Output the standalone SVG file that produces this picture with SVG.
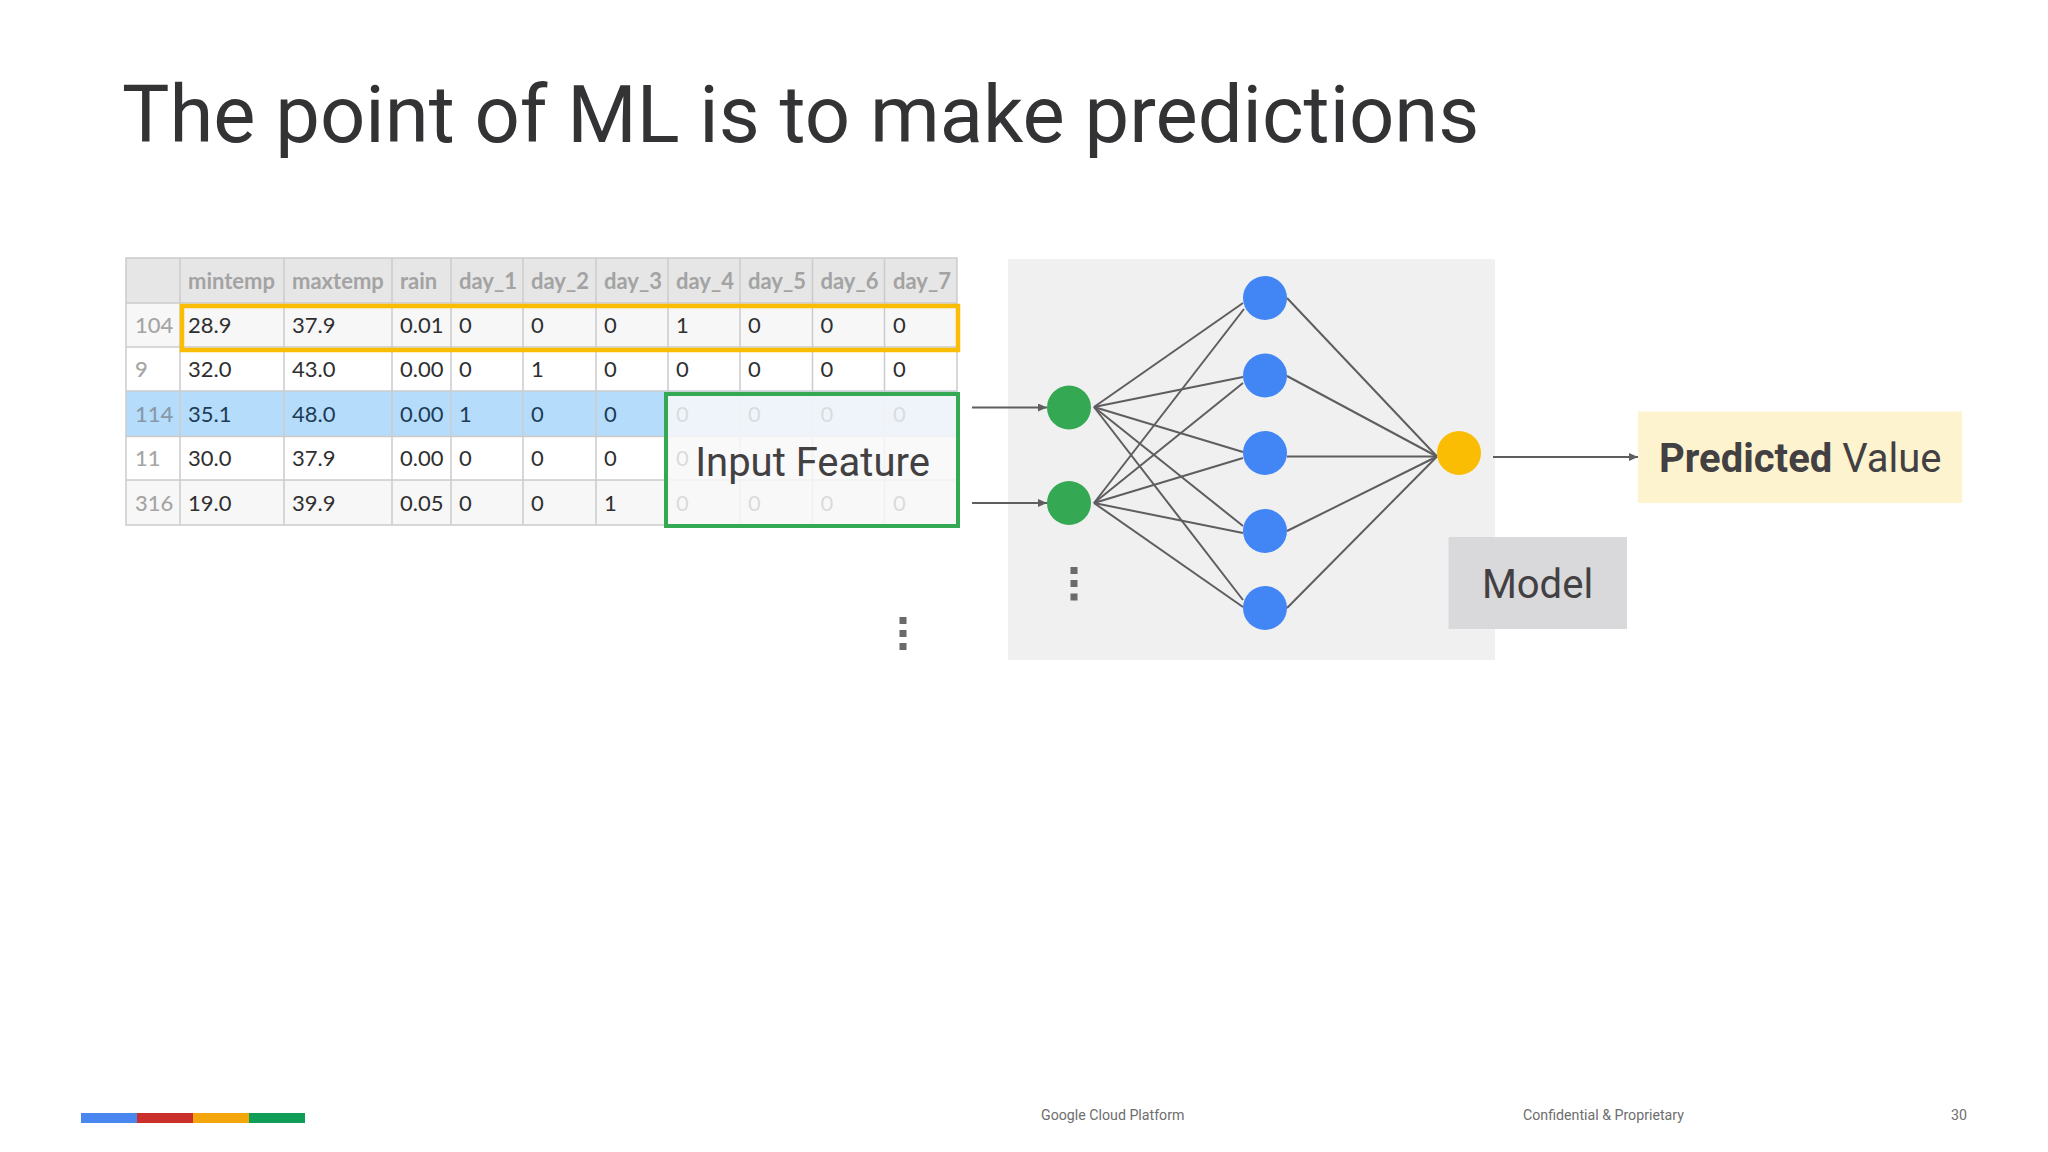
<svg xmlns="http://www.w3.org/2000/svg" width="2048" height="1152" viewBox="0 0 2048 1152">
<style>
text{font-family:Roboto,"Liberation Sans",sans-serif}
.t{font-family:Lato,"Liberation Sans",sans-serif;font-size:22px;fill:#2f2f2f}
.h{font-family:Lato,"Liberation Sans",sans-serif;font-size:22px;font-weight:700;fill:#a3a3a3}
.r{font-family:Lato,"Liberation Sans",sans-serif;font-size:22px;font-weight:500;fill:#a5a5a5}
.b{fill:#1d3c56}
.grid{stroke:#cbcbcb;stroke-width:1.5;fill:none}
.c line{stroke:#5f5d5f;stroke-width:2}
.a{marker-end:url(#ah)}
.lbl{font-size:40px;fill:#424042}
.blue{fill:#4285f4}.green{fill:#34a853}
.ft{font-size:14.2px;fill:#6e6e6e}
.dot{fill:#6b696b}
</style>
<defs><marker id="ah" markerUnits="userSpaceOnUse" markerWidth="10" markerHeight="8" refX="9" refY="4" orient="auto"><path d="M0 0L9 4L0 8Z" fill="#5f5d5f"/></marker></defs>
<rect width="2048" height="1152" fill="#fff"/>
<text id="title" x="122" y="142" font-size="79.600" fill="#333335">The point of ML is to make predictions</text>
<g id="table">
<rect x="126" y="258" width="831" height="45" fill="#e6e6e6"/>
<rect x="126" y="303" width="831" height="44" fill="#f7f7f7"/>
<rect x="126" y="391" width="831" height="45.500" fill="#b6dcfb"/>
<rect x="126" y="480" width="831" height="45" fill="#f7f7f7"/>
<path class="grid" d="M126 258H957V525H126ZM126 303H957M126 347H957M126 391H957M126 436.500H957M126 480H957M180 258V525M284 258V525M392 258V525M451 258V525M523 258V525M596 258V525M668 258V525M740 258V525M812.500 258V525M884.500 258V525"/>
<g class="h"><text class="h" x="188" y="289">mintemp</text><text class="h" x="292" y="289">maxtemp</text><text class="h" x="400" y="289">rain</text><text class="h" x="459" y="289">day_1</text><text class="h" x="531" y="289">day_2</text><text class="h" x="604" y="289">day_3</text><text class="h" x="676" y="289">day_4</text><text class="h" x="748" y="289">day_5</text><text class="h" x="820.500" y="289">day_6</text><text class="h" x="893" y="289">day_7</text></g>
<text class="r" x="135" y="333">104</text><text class="t" x="188" y="333">28.9</text><text class="t" x="292" y="333">37.9</text><text class="t" x="400" y="333">0.01</text><text class="t" x="459" y="333">0</text><text class="t" x="531" y="333">0</text><text class="t" x="604" y="333">0</text><text class="t" x="676" y="333">1</text><text class="t" x="748" y="333">0</text><text class="t" x="820.500" y="333">0</text><text class="t" x="893" y="333">0</text>
<text class="r" x="135" y="377">9</text><text class="t" x="188" y="377">32.0</text><text class="t" x="292" y="377">43.0</text><text class="t" x="400" y="377">0.00</text><text class="t" x="459" y="377">0</text><text class="t" x="531" y="377">1</text><text class="t" x="604" y="377">0</text><text class="t" x="676" y="377">0</text><text class="t" x="748" y="377">0</text><text class="t" x="820.500" y="377">0</text><text class="t" x="893" y="377">0</text>
<text class="r" x="135" y="421.500" style="fill:#8799a8">114</text><text class="t b" x="188" y="421.500">35.1</text><text class="t b" x="292" y="421.500">48.0</text><text class="t b" x="400" y="421.500">0.00</text><text class="t b" x="459" y="421.500">1</text><text class="t b" x="531" y="421.500">0</text><text class="t b" x="604" y="421.500">0</text><text class="t b" x="676" y="421.500">0</text><text class="t b" x="748" y="421.500">0</text><text class="t b" x="820.500" y="421.500">0</text><text class="t b" x="893" y="421.500">0</text>
<text class="r" x="135" y="466">11</text><text class="t" x="188" y="466">30.0</text><text class="t" x="292" y="466">37.9</text><text class="t" x="400" y="466">0.00</text><text class="t" x="459" y="466">0</text><text class="t" x="531" y="466">0</text><text class="t" x="604" y="466">0</text><text class="t" x="676" y="466">0</text>
<text class="r" x="135" y="510.500">316</text><text class="t" x="188" y="510.500">19.0</text><text class="t" x="292" y="510.500">39.9</text><text class="t" x="400" y="510.500">0.05</text><text class="t" x="459" y="510.500">0</text><text class="t" x="531" y="510.500">0</text><text class="t" x="604" y="510.500">1</text><text class="t" x="676" y="510.500">0</text><text class="t" x="748" y="510.500">0</text><text class="t" x="820.500" y="510.500">0</text><text class="t" x="893" y="510.500">0</text>
</g>
<rect id="row-highlight" x="182" y="306" width="776" height="44" fill="none" stroke="#fbbc04" stroke-width="4.500"/>
<g id="input-feature">
<rect x="666" y="394" width="292" height="132" fill="#f8f8f8" fill-opacity=".85" stroke="#34a853" stroke-width="4"/>
<text class="lbl" x="812.500" y="475.500" text-anchor="middle">Input Feature</text>
</g>
<rect id="model-panel" x="1008" y="259" width="487" height="401" fill="#f0f0f1"/>
<g id="connectors" class="c">
<line class="a" x1="972" y1="407.500" x2="1047" y2="407.500"/><line class="a" x1="972" y1="503" x2="1047" y2="503"/>
<line x1="1094" y1="407" x2="1243" y2="303"/><line x1="1094" y1="407" x2="1243" y2="377"/><line x1="1094" y1="407" x2="1243" y2="452"/><line x1="1094" y1="407" x2="1243" y2="526"/><line x1="1094" y1="407" x2="1243" y2="600"/>
<line x1="1094" y1="503" x2="1244" y2="309"/><line x1="1094" y1="503" x2="1243" y2="383"/><line x1="1094" y1="503" x2="1243" y2="458"/><line x1="1094" y1="503" x2="1243" y2="533"/><line x1="1094" y1="503" x2="1243" y2="607"/>
<line x1="1287" y1="298" x2="1437" y2="456.500"/><line x1="1287" y1="376" x2="1437" y2="456.500"/><line x1="1287" y1="456.500" x2="1437" y2="456.500"/><line x1="1287" y1="531" x2="1437" y2="456.500"/><line x1="1287" y1="608" x2="1437" y2="456.500"/>
<line class="a" x1="1493" y1="457" x2="1638" y2="457"/>
</g>
<g id="input-1"><circle class="green" cx="1069" cy="407.500" r="22"/></g>
<g id="input-2"><circle class="green" cx="1069" cy="503" r="22"/></g>
<g id="hidden-1"><circle class="blue" cx="1265" cy="298" r="22"/></g>
<g id="hidden-2"><circle class="blue" cx="1265" cy="375.500" r="22"/></g>
<g id="hidden-3"><circle class="blue" cx="1265" cy="453" r="22"/></g>
<g id="hidden-4"><circle class="blue" cx="1265" cy="531" r="22"/></g>
<g id="hidden-5"><circle class="blue" cx="1265" cy="608" r="22"/></g>
<g id="output"><circle cx="1459" cy="453" r="22" fill="#fbbc04"/></g>
<g id="dots-1"><rect class="dot" x="1070.500" y="567" width="7" height="7"/><rect class="dot" x="1070.500" y="580" width="7" height="7"/><rect class="dot" x="1070.500" y="593.500" width="7" height="7"/></g>
<g id="dots-2"><rect class="dot" x="899.500" y="617" width="7" height="7"/><rect class="dot" x="899.500" y="630" width="7" height="7"/><rect class="dot" x="899.500" y="643" width="7" height="7"/></g>
<g id="model-label"><rect x="1448.500" y="537" width="178.500" height="92" fill="#d9d8db"/><text class="lbl" x="1537.500" y="597.500" text-anchor="middle">Model</text></g>
<g id="predicted-value"><rect x="1638" y="411.500" width="324" height="91.500" fill="#fef3cf"/><text class="lbl" x="1659" y="472"><tspan font-weight="700">Predicted</tspan> Value</text></g>
<g id="footer">
<rect x="81" y="1113" width="56" height="10" fill="#4a86f0"/><rect x="137" y="1113" width="56" height="10" fill="#cb2f2a"/><rect x="193" y="1113" width="56" height="10" fill="#f2a60c"/><rect x="249" y="1113" width="56" height="10" fill="#0f9d58"/>
<text class="ft" x="1041" y="1120">Google Cloud Platform</text><text class="ft" x="1523" y="1120">Confidential &amp; Proprietary</text><text class="ft" x="1951" y="1120">30</text>
</g>
</svg>
